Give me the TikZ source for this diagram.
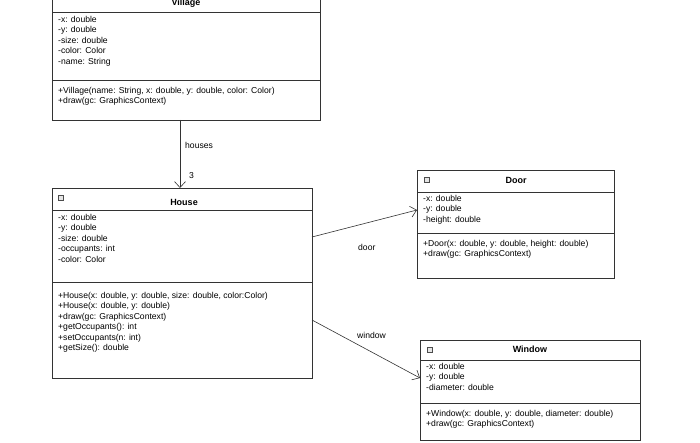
\documentclass[tikz,border=0pt]{standalone}
\usepackage{fontspec}
\setmainfont{Liberation Sans}
\usetikzlibrary{positioning,arrows.meta}

\begin{document}
\begin{tikzpicture}[x=1pt, y=-1pt]
\tikzset{umlbox/.style={draw=black!80, line width=0.6pt},
txt/.style={font=\fontsize{8.6}{10.4}\selectfont, anchor=north west, inner sep=0, align=left},
ttl/.style={font=\fontsize{9}{10}\selectfont\bfseries, inner sep=0},
lnk/.style={draw=black!80, line width=0.6pt, -{Straight Barb[length=6pt,width=11pt]}},
icon/.style={draw=black!70, fill=black!10, minimum size=5pt, inner sep=0}}

\useasboundingbox (0,0) rectangle (700,443);

%% Village
\draw[umlbox] (52,-5) rectangle (320,120);
\draw[umlbox] (52,12) -- (320,12);
\draw[umlbox] (52,80) -- (320,80);
\node (vt) [ttl] at (186,3) {Village};
\node (va) [txt] at (58,16) {-x: double\\-y: double\\-size: double\\-color: Color\\-name: String};
\node (vm) [txt] at (58,87) {+Village(name: String, x: double, y: double, color: Color)\\+draw(gc: GraphicsContext)};
\coordinate (vb) at (180,120);

%% House
\draw[umlbox] (52,188) rectangle (312,378);
\draw[umlbox] (52,210) -- (312,210);
\draw[umlbox] (52,282) -- (312,282);
\node (hi) [icon] at (61,198) {};
\node (ht) [ttl] at (184,202) {House};
\node (ha) [txt] at (58,214) {-x: double\\-y: double\\-size: double\\-occupants: int\\-color: Color};
\node (hm) [txt] at (58,292) {+House(x: double, y: double, size: double, color:Color)\\+House(x: double, y: double)\\+draw(gc: GraphicsContext)\\+getOccupants(): int\\+setOccupants(n: int)\\+getSize(): double};
\coordinate (htop) at (180,188);
\coordinate (hd) at (312,237);
\coordinate (hw) at (312,320);

%% Door
\draw[umlbox] (417,170) rectangle (614,278);
\draw[umlbox] (417,192) -- (614,192);
\draw[umlbox] (417,233) -- (614,233);
\node (di) [icon] at (427,180) {};
\node (dt) [ttl] at (516,180) {Door};
\node (da) [txt] at (423,195) {-x: double\\-y: double\\-height: double};
\node (dm) [txt] at (423,240) {+Door(x: double, y: double, height: double)\\+draw(gc: GraphicsContext)};
\coordinate (dl) at (417,210);

%% Window
\draw[umlbox] (420,340) rectangle (640,440);
\draw[umlbox] (420,360) -- (640,360);
\draw[umlbox] (420,403) -- (640,403);
\node (wi) [icon] at (430,350) {};
\node (wt) [ttl] at (530,349) {Window};
\node (wa) [txt] at (426,363) {-x: double\\-y: double\\-diameter: double};
\node (wm) [txt] at (426,410) {+Window(x: double, y: double, diameter: double)\\+draw(gc: GraphicsContext)};
\coordinate (wl) at (420,378);

%% Links
\draw[lnk] (vb) -- (htop);
\node (lh) [txt] at (185,142) {houses};
\node (lm) [txt] at (189,172) {3};
\draw[lnk] (hd) -- (dl);
\node (ld) [txt] at (358,244) {door};
\draw[lnk] (hw) -- (wl);
\node (lw) [txt] at (357,332) {window};

\end{tikzpicture}
\end{document}
